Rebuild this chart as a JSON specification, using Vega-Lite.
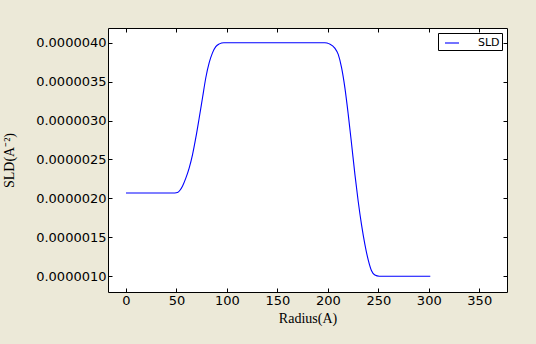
{
  "$schema": "https://vega.github.io/schema/vega-lite/v6.json",
  "autosize": "none",
  "width": 399,
  "height": 264,
  "padding": {"left": 108, "top": 28, "right": 29, "bottom": 52},
  "background": "#ece9d8",
  "config": {
    "view": {"stroke": "black", "strokeWidth": 1, "fill": "white"},
    "axis": {"grid": false, "domain": false, "tickColor": "black", "tickSize": -4, "labelFont": "DejaVu Sans", "labelFontSize": 13, "labelColor": "black", "titleFont": "Liberation Serif", "titleFontSize": 14, "titleFontWeight": "normal", "titleColor": "black"}
  },
  "data": {"values": [
    {"r": 0, "sld": 0.00000207, "s": "SLD"},
    {"r": 48.5, "sld": 0.00000207, "s": "SLD"},
    {"r": 51, "sld": 0.000002075, "s": "SLD"},
    {"r": 53.5, "sld": 0.000002105, "s": "SLD"},
    {"r": 56.1, "sld": 0.00000216, "s": "SLD"},
    {"r": 59.3, "sld": 0.00000226, "s": "SLD"},
    {"r": 62.6, "sld": 0.00000239, "s": "SLD"},
    {"r": 65.9, "sld": 0.00000256, "s": "SLD"},
    {"r": 69.2, "sld": 0.00000278, "s": "SLD"},
    {"r": 72.5, "sld": 0.00000303, "s": "SLD"},
    {"r": 75.8, "sld": 0.00000329, "s": "SLD"},
    {"r": 79.1, "sld": 0.00000355, "s": "SLD"},
    {"r": 82.4, "sld": 0.00000374, "s": "SLD"},
    {"r": 85.7, "sld": 0.00000387, "s": "SLD"},
    {"r": 89.0, "sld": 0.00000395, "s": "SLD"},
    {"r": 92.5, "sld": 0.000003985, "s": "SLD"},
    {"r": 97, "sld": 0.000004, "s": "SLD"},
    {"r": 197, "sld": 0.000004, "s": "SLD"},
    {"r": 201.5, "sld": 0.000003985, "s": "SLD"},
    {"r": 206.9, "sld": 0.00000393, "s": "SLD"},
    {"r": 210.3, "sld": 0.00000385, "s": "SLD"},
    {"r": 213.6, "sld": 0.00000368, "s": "SLD"},
    {"r": 216.9, "sld": 0.00000342, "s": "SLD"},
    {"r": 220.2, "sld": 0.00000308, "s": "SLD"},
    {"r": 223.6, "sld": 0.00000269, "s": "SLD"},
    {"r": 226.9, "sld": 0.00000230, "s": "SLD"},
    {"r": 230.1, "sld": 0.00000196, "s": "SLD"},
    {"r": 233.4, "sld": 0.00000166, "s": "SLD"},
    {"r": 236.7, "sld": 0.00000141, "s": "SLD"},
    {"r": 240.0, "sld": 0.00000121, "s": "SLD"},
    {"r": 243.3, "sld": 0.00000107, "s": "SLD"},
    {"r": 246.6, "sld": 0.000001015, "s": "SLD"},
    {"r": 251, "sld": 0.000001, "s": "SLD"},
    {"r": 301.5, "sld": 0.000001, "s": "SLD"}
  ]},
  "layer": [
    {
      "mark": {"type": "line", "interpolate": "monotone", "strokeWidth": 1.1},
      "encoding": {
        "x": {"field": "r", "type": "quantitative", "scale": {"domain": [-17.8, 377.5], "nice": false, "zero": false}, "axis": {"title": "Radius(A)", "values": [0, 50, 100, 150, 200, 250, 300, 350], "labelPadding": 6, "titlePadding": 4}},
        "y": {"field": "sld", "type": "quantitative", "scale": {"domain": [0.000000798, 0.000004189], "nice": false, "zero": false}, "axis": {"title": "SLD(A⁻²)", "format": ".7f", "values": [0.000001, 0.0000015, 0.000002, 0.0000025, 0.000003, 0.0000035, 0.000004], "labelPadding": 6, "titlePadding": 19}},
        "color": {"field": "s", "type": "nominal", "scale": {"range": ["#0000ff"]}, "legend": {"title": null, "orient": "top-right", "offset": 5, "symbolType": "stroke", "symbolSize": 196, "symbolOffset": 4, "symbolStrokeWidth": 1.1, "strokeColor": "black", "fillColor": "white", "padding": 2, "labelFont": "DejaVu Sans", "labelFontSize": 11, "labelColor": "black", "labelOffset": 18}}
      }
    },
    {
      "mark": {"type": "line", "opacity": 0},
      "encoding": {
        "x": {"field": "r", "type": "quantitative", "axis": {"orient": "top", "title": null, "labels": false, "values": [0, 50, 100, 150, 200, 250, 300, 350]}},
        "y": {"field": "sld", "type": "quantitative", "axis": {"orient": "right", "title": null, "labels": false, "values": [0.000001, 0.0000015, 0.000002, 0.0000025, 0.000003, 0.0000035, 0.000004]}}
      }
    }
  ],
  "resolve": {"axis": {"x": "independent", "y": "independent"}}
}
